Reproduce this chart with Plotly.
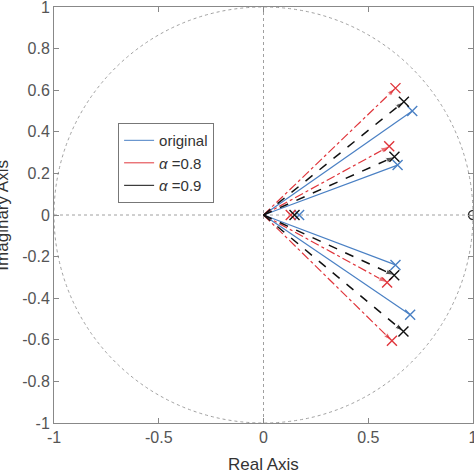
import plotly.graph_objects as go

# pole locations (real, imag)
orig_re = [0.71, 0.64, 0.63, 0.70, 0.17]
orig_im = [0.50, 0.24, -0.24, -0.48, 0.0]
a09_re = [0.67, 0.625, 0.624, 0.668, 0.148]
a09_im = [0.545, 0.28, -0.29, -0.56, 0.0]
a08_re = [0.63, 0.60, 0.59, 0.613, 0.13]
a08_im = [0.61, 0.33, -0.325, -0.605, 0.0]
zero_re = [1.0]
zero_im = [0.0]

xticks = [-1, -0.5, 0, 0.5, 1]
xticklabels = ["-1", "-0.5", "0", "0.5", "1"]
yticks = [-1, -0.8, -0.6, -0.4, -0.2, 0, 0.2, 0.4, 0.6, 0.8, 1]
yticklabels = ["-1", "-0.8", "-0.6", "-0.4", "-0.2", "0", "0.2", "0.4", "0.6", "0.8", "1"]

BLUE = "#4a80c4"
RED = "#e0363c"
BLACK = "#111111"

fig = go.Figure()

def segs(re, im, n):
    xs, ys, sz = [], [], []
    for i in range(n):
        xs += [0, re[i], None]
        ys += [0, im[i], None]
        sz += [0, 9, 0]
    return xs, ys, sz

series = [
    (orig_re, orig_im, BLUE, "solid", 1.2, False, "original"),
    (a08_re, a08_im, RED, "dashdot", 1.2, True, "<i>α</i> =0.8"),
    (a09_re, a09_im, BLACK, "dash", 1.5, True, "<i>α</i> =0.9"),
]
for re, im, col, dash, w, arrow, name in series:
    xs, ys, sz = segs(re, im, 4)
    if arrow:
        fig.add_trace(go.Scatter(x=xs, y=ys, mode="lines+markers",
                                 line=dict(color=col, dash=dash, width=w),
                                 marker=dict(symbol="arrow", size=sz, color=col,
                                             angleref="previous"),
                                 showlegend=False, hoverinfo="skip", cliponaxis=False))
    else:
        fig.add_trace(go.Scatter(x=xs, y=ys, mode="lines",
                                 line=dict(color=col, dash=dash, width=w),
                                 showlegend=False, hoverinfo="skip"))
    fig.add_trace(go.Scatter(x=re, y=im, mode="markers",
                             marker=dict(symbol="x-thin", size=10,
                                         line=dict(color=col, width=1.4)),
                             showlegend=False, hoverinfo="skip"))
    fig.add_trace(go.Scatter(x=[None], y=[None], mode="lines", name=name,
                             line=dict(color=col, width=1)))

fig.add_trace(go.Scatter(x=zero_re, y=zero_im, mode="markers",
                         marker=dict(symbol="circle-open", size=9, color="#333",
                                     line=dict(width=1.5)),
                         showlegend=False, cliponaxis=False, hoverinfo="skip"))

# unit circle and axes through origin
fig.add_shape(type="circle", x0=-1, y0=-1, x1=1, y1=1, xref="x", yref="y",
              line=dict(color="#a0a0a0", width=1, dash="dot"), layer="below")
fig.add_shape(type="line", x0=-1, y0=0, x1=1, y1=0, xref="x", yref="y",
              line=dict(color="#a0a0a0", width=1, dash="dot"), layer="below")
fig.add_shape(type="line", x0=0, y0=-1, x1=0, y1=1, xref="x", yref="y",
              line=dict(color="#a0a0a0", width=1, dash="dot"), layer="below")

axcommon = dict(showgrid=False, zeroline=False, showline=True, linecolor="#888",
                linewidth=1, mirror="ticks", ticks="inside", ticklen=5,
                tickcolor="#888", ticklabeloverflow="allow", automargin=False,
                tickfont=dict(size=16, color="#555", family="Liberation Sans, Arial"))
fig.update_xaxes(range=[-1, 1], tickvals=xticks, ticktext=xticklabels, **axcommon)
fig.update_yaxes(range=[-1, 1], tickvals=yticks, ticktext=yticklabels, **axcommon)

fig.update_layout(
    width=474, height=474,
    margin=dict(l=54, r=1, t=7, b=51),
    plot_bgcolor="white", paper_bgcolor="white",
    font=dict(family="Liberation Sans, Arial", color="#333"),
    legend=dict(x=0.153, y=0.721, xanchor="left", yanchor="top",
                bgcolor="white", bordercolor="#777", borderwidth=1,
                font=dict(size=15, color="#333"), tracegroupgap=0),
    annotations=[
        dict(text="Real Axis", xref="paper", yref="paper", x=0.5, y=-0.1,
             xanchor="center", yanchor="middle", showarrow=False,
             font=dict(size=17, color="#333")),
        dict(text="Imaginary Axis", xref="paper", yref="paper", x=-0.125, y=0.5,
             xanchor="center", yanchor="middle", textangle=-90, showarrow=False,
             font=dict(size=17, color="#333")),
    ],
)

fig.write_html("out.html")
